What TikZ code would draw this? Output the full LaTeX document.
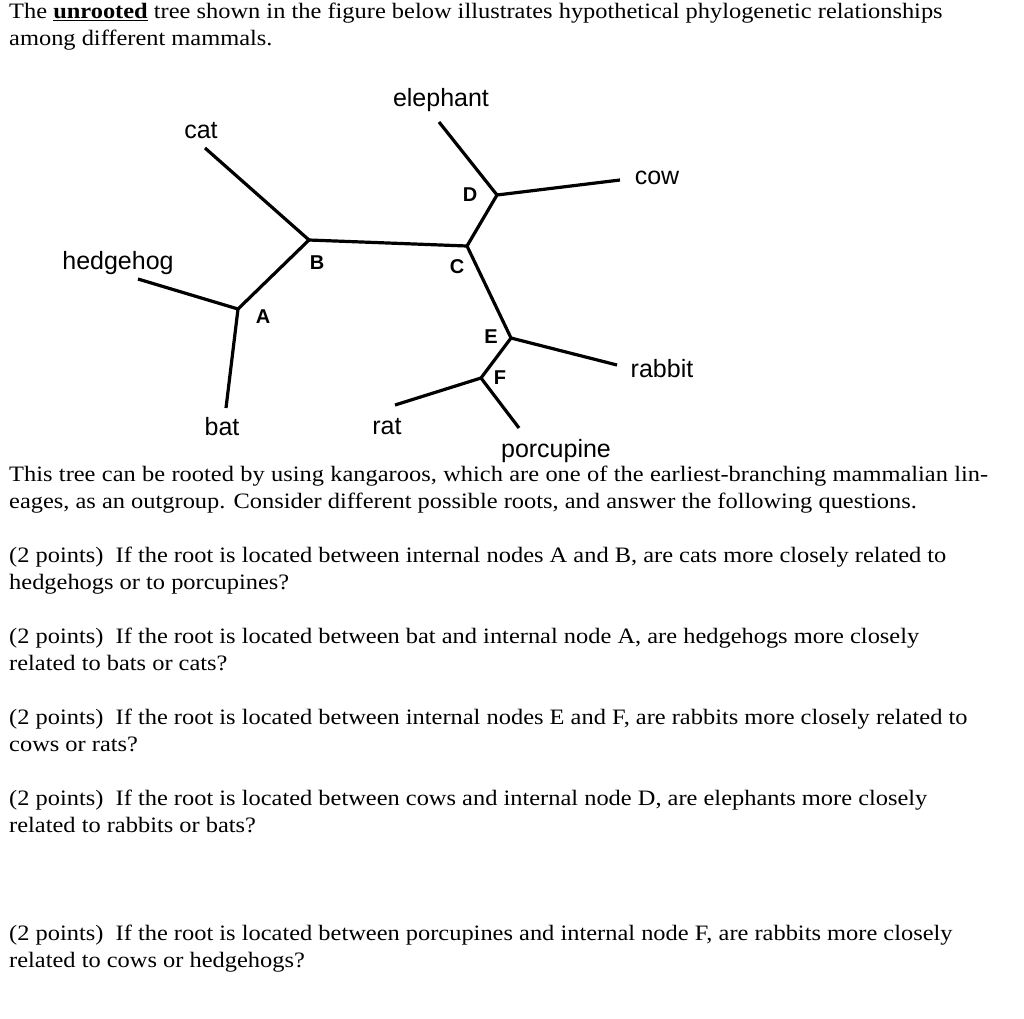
\documentclass[tikz,border=0pt]{standalone}
\usepackage{fontspec}
\setmainfont{Liberation Serif}[FakeStretch=1.11]
\newfontfamily\lab{Liberation Sans}
\begin{document}
\begin{tikzpicture}[x=1pt,y=-1pt,
  br/.style={line width=3.2pt},
  lbl/.style={font=\lab\fontsize{25}{28}\selectfont, inner sep=0},
  il/.style={font=\lab\bfseries\fontsize{20}{22}\selectfont, inner sep=0},
  txt/.style={font=\fontsize{22}{27}\selectfont, anchor=north west, inner sep=0, align=left},
  jtxt/.style={txt, text width=979pt, align=justify}]
\useasboundingbox (0,0) rectangle (1024,1018);
\coordinate (cat) at (205,148); \coordinate (B) at (309,240);
\coordinate (C) at (467,246); \coordinate (hh) at (138,279);
\coordinate (A) at (238,309); \coordinate (bat) at (226,408);
\coordinate (D) at (497,195); \coordinate (el) at (439,122);
\coordinate (cow) at (620,180); \coordinate (E) at (511,338);
\coordinate (rab) at (617,365); \coordinate (F) at (481,378);
\coordinate (rat) at (395,405); \coordinate (por) at (519,428);
\draw[br] (cat)--(B); \draw[br] (B)--(C); \draw[br] (hh)--(A);
\draw[br] (A)--(B); \draw[br] (A)--(bat); \draw[br] (C)--(D);
\draw[br] (D)--(el); \draw[br] (D)--(cow); \draw[br] (C)--(E);
\draw[br] (E)--(rab); \draw[br] (E)--(F); \draw[br] (F)--(rat);
\draw[br] (F)--(por);
\node[lbl] (lel) at (441,100) {elephant};
\node[lbl] (lcat) at (201,131) {cat};
\node[lbl] (lcow) at (657,178) {cow};
\node[lbl] (lhh) at (118,263) {hedgehog};
\node[lbl] (lrab) at (662,369) {rabbit};
\node[lbl] (lbat) at (222,427) {bat};
\node[lbl] (lrat) at (387,427) {rat};
\node[lbl] (lpor) at (556,451) {porcupine};
\node[il] (lA) at (263,317) {A};
\node[il] (lB) at (317,263) {B};
\node[il] (lC) at (457,267) {C};
\node[il] (lD) at (470,195) {D};
\node[il] (lE) at (491,337) {E};
\node[il] (lF) at (500,378) {F};
\node[txt] (t1) at (9,3) {The \textbf{\underline{unrooted}} tree shown in the figure below illustrates hypothetical phylogenetic relationships\\among different mammals.};
\node[jtxt] (t2) at (9,466) {This tree can be rooted by using kangaroos, which are one of the earliest-branching mammalian lineages, as an outgroup. Consider different possible roots, and answer the following questions.};
\node[txt] (q1) at (9,547) {(2 points)\ \ If the root is located between internal nodes A and B, are cats more closely related to\\hedgehogs or to porcupines?};
\node[txt] (q2) at (9,628) {(2 points)\ \ If the root is located between bat and internal node A, are hedgehogs more closely\\related to bats or cats?};
\node[txt] (q3) at (9,709) {(2 points)\ \ If the root is located between internal nodes E and F, are rabbits more closely related to\\cows or rats?};
\node[txt] (q4) at (9,790) {(2 points)\ \ If the root is located between cows and internal node D, are elephants more closely\\related to rabbits or bats?};
\node[txt] (q5) at (9,925) {(2 points)\ \ If the root is located between porcupines and internal node F, are rabbits more closely\\related to cows or hedgehogs?};
\end{tikzpicture}
\end{document}
